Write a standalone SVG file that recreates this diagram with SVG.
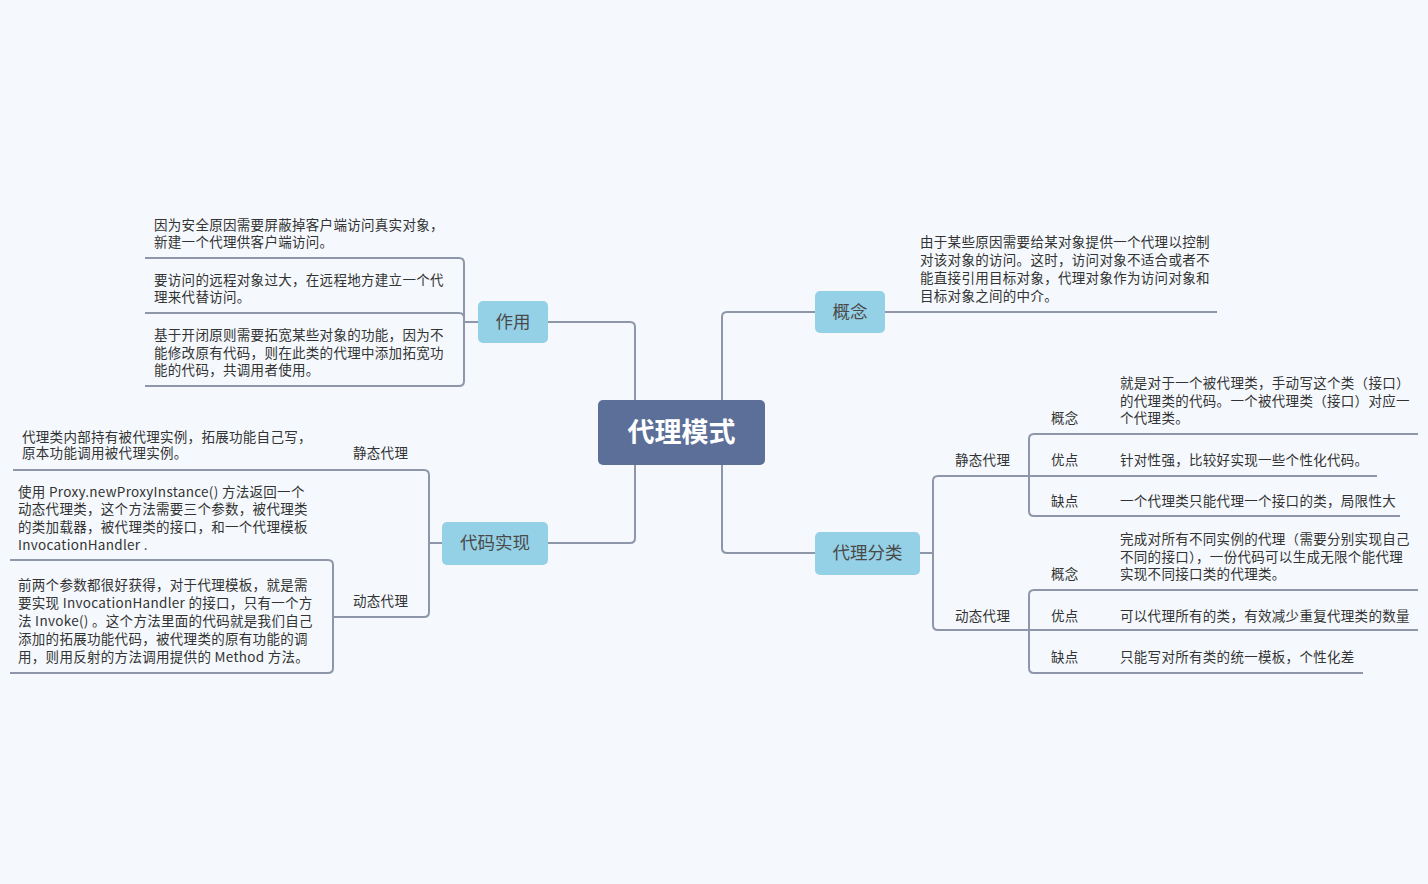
<svg xmlns="http://www.w3.org/2000/svg" width="1428" height="884" viewBox="0 0 1428 884">
<style>
.bg{fill:#f5f9fd}
.ln{fill:none;stroke:#8e97a9;stroke-width:2}
.main{fill:#5b6f98}
.sub{fill:#94d1e6}
.t{font-family:"Noto Sans CJK SC","Liberation Sans",sans-serif;font-size:13.5px;letter-spacing:0.3px;fill:#333}
.tn{font-family:"Noto Sans CJK SC","Liberation Sans",sans-serif;font-size:17.5px;fill:#4a4a4a;text-anchor:middle}
.tm{font-family:"Noto Sans CJK SC","Liberation Sans",sans-serif;font-size:27px;font-weight:bold;fill:#fff;text-anchor:middle}
</style>
<rect class="bg" x="0" y="0" width="1428" height="884"/>
<g id="connectors">
<path class="ln" d="M548,322 H630 Q635,322 635,327 V400"/>
<path class="ln" d="M548,543 H630 Q635,543 635,538 V465"/>
<path class="ln" d="M815,312 H727 Q722,312 722,317 V400"/>
<path class="ln" d="M815,553 H727 Q722,553 722,548 V465"/>
<path class="ln" d="M885,312 H1217"/>
<path class="ln" d="M145,258 H459 Q464,258 464,263 V381 Q464,386 459,386 H145"/>
<path class="ln" d="M145,313 H459 Q464,313 464,318"/>
<path class="ln" d="M464,322 H478"/>
<path class="ln" d="M13,470 H424 Q429,470 429,475 V612 Q429,617 424,617 H333"/>
<path class="ln" d="M429,543 H442"/>
<path class="ln" d="M10,560 H328 Q333,560 333,565 V668 Q333,673 328,673 H10"/>
<path class="ln" d="M920,553 H933"/>
<path class="ln" d="M1377,476 H938 Q933,476 933,481 V625 Q933,630 938,630 H1418"/>
<path class="ln" d="M1418,434 H1034 Q1029,434 1029,439 V511 Q1029,516 1034,516 H1400"/>
<path class="ln" d="M1418,590 H1034 Q1029,590 1029,595 V668 Q1029,673 1034,673 H1363"/>
</g>
<g id="root">
<rect class="main" x="598" y="400" width="167" height="65" rx="5"/>
<text class="tm" x="681.5" y="442">代理模式</text>
</g>
<g id="zuoyong">
<rect class="sub" x="478" y="301" width="70" height="42" rx="5"/>
<text class="tn" x="513" y="328">作用</text>
</g>
<g id="gainian">
<rect class="sub" x="815" y="291" width="70" height="42" rx="5"/>
<text class="tn" x="850" y="318">概念</text>
</g>
<g id="daimashixian">
<rect class="sub" x="442" y="522" width="106" height="43" rx="5"/>
<text class="tn" x="495" y="549">代码实现</text>
</g>
<g id="dailifenlei">
<rect class="sub" x="815" y="532" width="105" height="43" rx="5"/>
<text class="tn" x="867.5" y="559">代理分类</text>
</g>
<g id="gainian-text">
<text class="t"><tspan x="920" y="247">由于某些原因需要给某对象提供一个代理以控制</tspan><tspan x="920" y="265">对该对象的访问。这时，访问对象不适合或者不</tspan><tspan x="920" y="283">能直接引用目标对象，代理对象作为访问对象和</tspan><tspan x="920" y="301">目标对象之间的中介。</tspan></text>
</g>
<g id="zuoyong-1">
<text class="t"><tspan x="154" y="230">因为安全原因需要屏蔽掉客户端访问真实对象，</tspan><tspan x="154" y="247">新建一个代理供客户端访问。</tspan></text>
</g>
<g id="zuoyong-2">
<text class="t"><tspan x="154" y="285">要访问的远程对象过大，在远程地方建立一个代</tspan><tspan x="154" y="302">理来代替访问。</tspan></text>
</g>
<g id="zuoyong-3">
<text class="t"><tspan x="154" y="340">基于开闭原则需要拓宽某些对象的功能，因为不</tspan><tspan x="154" y="358">能修改原有代码，则在此类的代理中添加拓宽功</tspan><tspan x="154" y="375">能的代码，共调用者使用。</tspan></text>
</g>
<g id="left-static">
<text class="t" x="353" y="458">静态代理</text>
</g>
<g id="left-static-text">
<text class="t"><tspan x="22" y="442">代理类内部持有被代理实例，拓展功能自己写，</tspan><tspan x="22" y="458">原本功能调用被代理实例。</tspan></text>
</g>
<g id="left-dynamic">
<text class="t" x="353" y="606">动态代理</text>
</g>
<g id="left-dynamic-1">
<text class="t"><tspan x="18" y="497">使用 Proxy.newProxyInstance() 方法返回一个</tspan><tspan x="18" y="514">动态代理类，这个方法需要三个参数，被代理类</tspan><tspan x="18" y="532">的类加载器，被代理类的接口，和一个代理模板</tspan><tspan x="18" y="550">InvocationHandler .</tspan></text>
</g>
<g id="left-dynamic-2">
<text class="t"><tspan x="18" y="590">前两个参数都很好获得，对于代理模板，就是需</tspan><tspan x="18" y="608">要实现 InvocationHandler 的接口，只有一个方</tspan><tspan x="18" y="626">法 Invoke() 。这个方法里面的代码就是我们自己</tspan><tspan x="18" y="644">添加的拓展功能代码，被代理类的原有功能的调</tspan><tspan x="18" y="662">用，则用反射的方法调用提供的 Method 方法。</tspan></text>
</g>
<g id="right-static">
<text class="t" x="955" y="465">静态代理</text>
</g>
<g id="rs-gainian">
<text class="t" x="1051" y="423">概念</text>
<text class="t"><tspan x="1120" y="388">就是对于一个被代理类，手动写这个类（接口）</tspan><tspan x="1120" y="406">的代理类的代码。一个被代理类（接口）对应一</tspan><tspan x="1120" y="423">个代理类。</tspan></text>
</g>
<g id="rs-youdian">
<text class="t" x="1051" y="465">优点</text>
<text class="t" x="1120" y="465">针对性强，比较好实现一些个性化代码。</text>
</g>
<g id="rs-quedian">
<text class="t" x="1051" y="506">缺点</text>
<text class="t" x="1120" y="506">一个代理类只能代理一个接口的类，局限性大</text>
</g>
<g id="right-dynamic">
<text class="t" x="955" y="621">动态代理</text>
</g>
<g id="rd-gainian">
<text class="t" x="1051" y="579">概念</text>
<text class="t"><tspan x="1120" y="544">完成对所有不同实例的代理（需要分别实现自己</tspan><tspan x="1120" y="562">不同的接口），一份代码可以生成无限个能代理</tspan><tspan x="1120" y="579">实现不同接口类的代理类。</tspan></text>
</g>
<g id="rd-youdian">
<text class="t" x="1051" y="621">优点</text>
<text class="t" x="1120" y="621">可以代理所有的类，有效减少重复代理类的数量</text>
</g>
<g id="rd-quedian">
<text class="t" x="1051" y="662">缺点</text>
<text class="t" x="1120" y="662">只能写对所有类的统一模板，个性化差</text>
</g>
</svg>
